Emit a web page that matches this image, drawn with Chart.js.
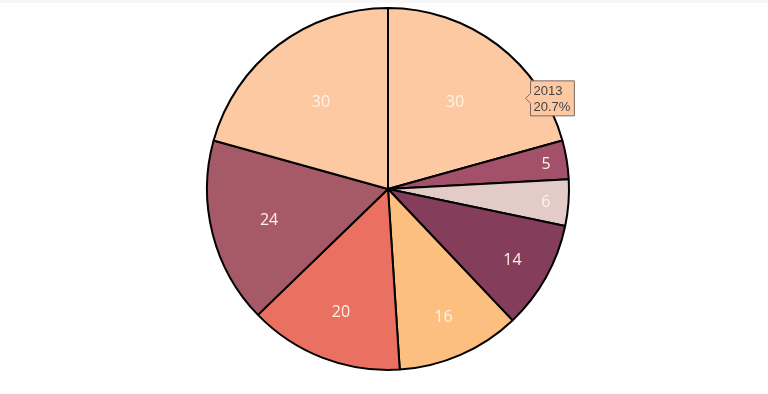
<!DOCTYPE html>
<html>
<head>
<meta charset="utf-8">
<script src="https://cdn.jsdelivr.net/npm/chart.js@4/dist/chart.umd.min.js"></script>
<style>
  html, body { margin: 0; padding: 0; background: #fff; }
  body { background: linear-gradient(#f6f6f6 0, #f6f6f6 3px, #fff 3px); }
  #wrap { width: 768px; height: 394px; }
</style>
</head>
<body>
<div id="wrap"><canvas id="myChart"></canvas></div>
<script>
var labels = ['2013', '2014', '2015', '2016', '2017', '2018', '2019', '2020'];
var values = [30, 5, 6, 14, 16, 20, 24, 30];
var colors = ['#fdc9a2', '#a3506a', '#e3cbc8', '#843d5a', '#fdbf80', '#ea7062', '#a65a67', '#fdc9a2'];

// values written inside each slice, pushed outward for thin slices
var sliceText = {
    id: 'sliceText',
    afterDatasetsDraw: function(chart) {
        var ctx = chart.ctx;
        var meta = chart.getDatasetMeta(0);
        ctx.save();
        ctx.font = '16px "Open Sans"';
        ctx.fillStyle = '#fff4e4';
        ctx.textAlign = 'center';
        ctx.textBaseline = 'middle';
        meta.data.forEach(function(arc, i) {
            var mid = (arc.startAngle + arc.endAngle) / 2;
            var deg = (arc.endAngle - arc.startAngle) * 180 / Math.PI;
            var r = arc.outerRadius * (0.94 - 0.0044 * deg);
            ctx.fillText(String(values[i]), arc.x + Math.cos(mid) * r, arc.y + Math.sin(mid) * r + 1.5);
        });
        ctx.restore();
    }
};

// hover label on the first slice
var hoverLabel = {
    id: 'hoverLabel',
    afterDraw: function(chart) {
        var ctx = chart.ctx;
        var arc = chart.getDatasetMeta(0).data[0];
        var total = values.reduce(function(a, b) { return a + b; }, 0);
        var ang = arc.startAngle + (arc.endAngle - arc.startAngle) * 0.76;
        var px = arc.x + Math.cos(ang) * arc.outerRadius * 0.91;
        var py = arc.y + Math.sin(ang) * arc.outerRadius * 0.91;
        var lines = [labels[0], (values[0] / total * 100).toFixed(1) + '%'];
        ctx.save();
        ctx.font = '13px "Liberation Sans"';
        var w = Math.max(ctx.measureText(lines[0]).width, ctx.measureText(lines[1]).width) + 7;
        var h = 35;
        var x0 = px + 5, y0 = py - h / 2;
        ctx.beginPath();
        ctx.moveTo(px, py);
        ctx.lineTo(x0, py - 5);
        ctx.lineTo(x0, y0);
        ctx.lineTo(x0 + w, y0);
        ctx.lineTo(x0 + w, y0 + h);
        ctx.lineTo(x0, y0 + h);
        ctx.lineTo(x0, py + 5);
        ctx.closePath();
        ctx.fillStyle = colors[0];
        ctx.fill();
        ctx.strokeStyle = '#7a6a60';
        ctx.lineWidth = 1;
        ctx.stroke();
        ctx.fillStyle = '#444';
        ctx.textAlign = 'left';
        ctx.textBaseline = 'middle';
        ctx.fillText(lines[0], x0 + 3, py - 7);
        ctx.fillText(lines[1], x0 + 3, py + 9);
        ctx.restore();
    }
};

var ctx = document.getElementById('myChart').getContext('2d');
var myChart = new Chart(ctx, {
    type: 'pie',
    data: {
        labels: labels,
        datasets: [{
            data: values,
            backgroundColor: colors,
            borderColor: '#000',
            borderWidth: 2
        }]
    },
    options: {
        responsive: true,
        maintainAspectRatio: false,
        animation: false,
        radius: 181,
        layout: { padding: { left: 8, right: 0, top: 2, bottom: 18 } },
        plugins: {
            legend: { display: false },
            tooltip: { enabled: false }
        }
    },
    plugins: [sliceText, hoverLabel]
});
</script>
</body>
</html>
